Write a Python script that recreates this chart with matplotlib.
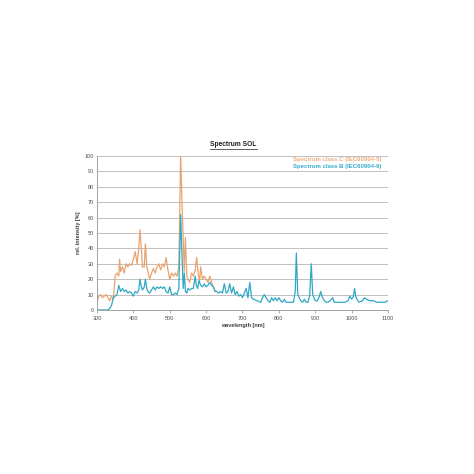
import matplotlib
matplotlib.use('Agg')

import matplotlib.pyplot as plt
from matplotlib.lines import Line2D

plt.rcParams['font.family'] = ['Liberation Sans', 'DejaVu Sans']

# spectrum class C (IEC60904-9), only visible up to ~625 nm, then follows class B
wl_c = [300, 305, 310, 315, 320, 325, 330, 335, 340, 345, 350, 355, 360, 362, 365, 370, 375, 380,
        385, 390, 395, 400, 405, 410, 415, 418, 422, 425, 430, 433, 437, 440, 445, 450, 455, 460,
        465, 470, 475, 480, 485, 490, 495, 500, 505, 510, 515, 520, 525, 530, 535, 540, 543, 547,
        550, 555, 560, 565, 570, 574, 578, 582, 585, 590, 595, 600, 605, 610, 615, 620, 625]
int_c = [5, 9, 10, 8, 9, 10, 8, 6, 9, 7, 22, 24, 22, 33, 25, 28, 24, 30,
         28, 30, 29, 33, 38, 30, 40, 52, 40, 28, 28, 43, 28, 25, 20, 24, 27, 24,
         28, 30, 26, 30, 28, 34, 26, 20, 24, 22, 24, 22, 28, 100, 60, 25, 47, 22,
         20, 18, 24, 22, 26, 34, 24, 18, 28, 20, 22, 20, 18, 22, 18, 15, 12]

# spectrum class B (IEC60904-9)
wl_b = [300, 310, 320, 330, 335, 340, 345, 350, 355, 360, 365, 370, 375, 380, 385, 390, 395, 400,
        405, 410, 415, 418, 422, 425, 430, 433, 437, 440, 445, 450, 455, 460, 465, 470, 475, 480,
        485, 490, 495, 500, 505, 510, 515, 520, 525, 530, 533, 537, 540, 543, 547, 550, 555, 560,
        565, 570, 573, 577, 580, 585, 590, 595, 600, 605, 610, 615, 620, 625, 630, 635, 640, 645,
        650, 655, 660, 665, 670, 675, 680, 685, 690, 695, 700, 705, 710, 715, 720, 725, 730, 740,
        750, 755, 760, 765, 770, 775, 780, 785, 790, 795, 800, 805, 810, 815, 820, 830, 840, 845,
        848, 852, 860, 865, 870, 875, 880, 885, 889, 893, 900, 905, 910, 915, 920, 925, 930, 935,
        945, 948, 952, 960, 970, 980, 990, 995, 1000, 1005, 1008, 1012, 1020, 1030, 1035, 1040,
        1050, 1060, 1070, 1080, 1090, 1100]
int_b = [0, 0, 0, 0, 1, 3, 8, 9, 10, 16, 12, 14, 12, 13, 11, 12, 11, 9,
         12, 11, 13, 20, 15, 13, 15, 20, 14, 12, 11, 13, 15, 13, 15, 14, 15, 14,
         15, 12, 11, 15, 10, 10, 11, 10, 14, 62, 40, 14, 24, 12, 11, 14, 13, 14,
         14, 22, 16, 14, 19, 16, 15, 17, 15, 16, 18, 16, 15, 12, 12, 11, 12, 11,
         17, 11, 12, 17, 11, 15, 10, 12, 9, 10, 8, 11, 14, 8, 18, 8, 7, 6,
         5, 8, 10, 8, 6, 5, 8, 6, 8, 6, 8, 6, 5, 7, 5, 5, 5, 12,
         37, 10, 6, 5, 7, 5, 5, 10, 30, 10, 6, 6, 8, 12, 8, 6, 5, 5,
         7, 8, 5, 5, 5, 5, 6, 9, 7, 9, 14, 8, 5, 6, 8, 7,
         6, 6, 5, 5, 5, 6]

orange = '#E9A36F'
teal = '#2FA9C6'

fig = plt.figure(figsize=(4.74, 4.74), dpi=100)
ax = fig.add_axes([0.2046, 0.346, 0.614, 0.325])

ax.plot(wl_c, int_c, color=orange, lw=0.9)
ax.plot(wl_b, int_b, color=teal, lw=0.9)

ax.set_xlim(300, 1100)
ax.set_ylim(0, 100)
ax.set_xticks(range(300, 1101, 100))
ax.set_yticks(range(0, 101, 10))
ax.yaxis.grid(True, color='#c0c0c0', lw=0.7)
ax.set_axisbelow(True)
for s in ['top', 'right']:
    ax.spines[s].set_visible(False)
for s in ['left', 'bottom']:
    ax.spines[s].set_color('#a0a0a0')
    ax.spines[s].set_linewidth(0.7)
ax.tick_params(axis='both', labelsize=4, colors='#a0a0a0', labelcolor='#505050',
               length=2, width=0.6, pad=2)
ax.tick_params(axis='y', length=0)

ax.set_xlabel('wavelength [nm]', fontsize=4, fontweight='bold', color='#404040', labelpad=1.5)
ax.set_ylabel('rel. intensity [%]', fontsize=4, fontweight='bold', color='#404040', labelpad=3)

ax.text(0.976, 0.978, 'Spectrum class C (IEC60904-9)', transform=ax.transAxes,
        ha='right', va='center', fontsize=4.3, fontweight='bold', color='#EFAE7E')
ax.text(0.976, 0.93, 'Spectrum class B (IEC60904-9)', transform=ax.transAxes,
        ha='right', va='center', fontsize=4.3, fontweight='bold', color='#35ABCB')

title = fig.text(233.5 / 474, 1 - 145 / 474, 'Spectrum SOL', ha='center', va='center',
                 fontsize=4.8, fontweight='bold', color='#202020')

# underline the title
fig.canvas.draw()
bb = title.get_window_extent().transformed(fig.transFigure.inverted())
fig.add_artist(Line2D([bb.x0, bb.x1], [bb.y0 - 0.001, bb.y0 - 0.001],
                      transform=fig.transFigure, color='#202020', lw=0.5))

fig.savefig('out.png', dpi=100)
